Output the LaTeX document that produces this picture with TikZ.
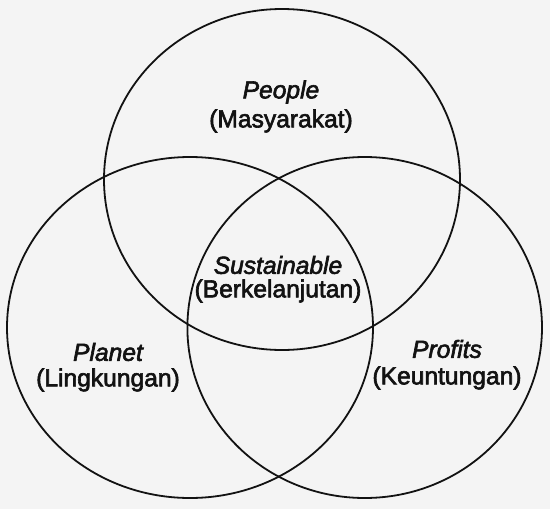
\documentclass[tikz,border=0pt]{standalone}
\usepackage{fontspec}
\setmainfont{Liberation Sans}
\begin{document}
\begin{tikzpicture}[x=1pt,y=-1pt,
  ring/.style={draw=black!93, line width=1.8pt},
  lbl/.style={inner sep=0pt, text=black!93, font=\fontsize{24.6}{28}\selectfont\addfontfeature{FakeBold=2.5}},
  lbli/.style={lbl, font=\fontsize{24.6}{28}\selectfont\itshape\addfontfeature{FakeBold=2.5}}]
\definecolor{bgcol}{HTML}{F4F4F4}
\fill[bgcol] (0,0) rectangle (550,509);
\useasboundingbox (0,0) rectangle (550,509);
% circles
\draw[ring] (282,179.5) ellipse [x radius=178pt, y radius=170.5pt];
\draw[ring] (190,327.5) ellipse [x radius=183pt, y radius=170.5pt];
\draw[ring] (364.7,327.5) ellipse [x radius=177.3pt, y radius=170.5pt];
% labels
\node[lbli] (people) at (281,92) {People};
\node[lbl]  (masy)   at (281,121) {(Masyarakat)};
\node[lbli] (sust)   at (278,265) {Sustainable};
\node[lbl]  (berk)   at (278,291) {(Berkelanjutan)};
\node[lbli] (planet) at (108,352) {Planet};
\node[lbl]  (ling)   at (108,380) {(Lingkungan)};
\node[lbli] (profit) at (447,349) {Profits};
\node[lbl]  (keun)   at (447,378) {(Keuntungan)};
\end{tikzpicture}
\end{document}
